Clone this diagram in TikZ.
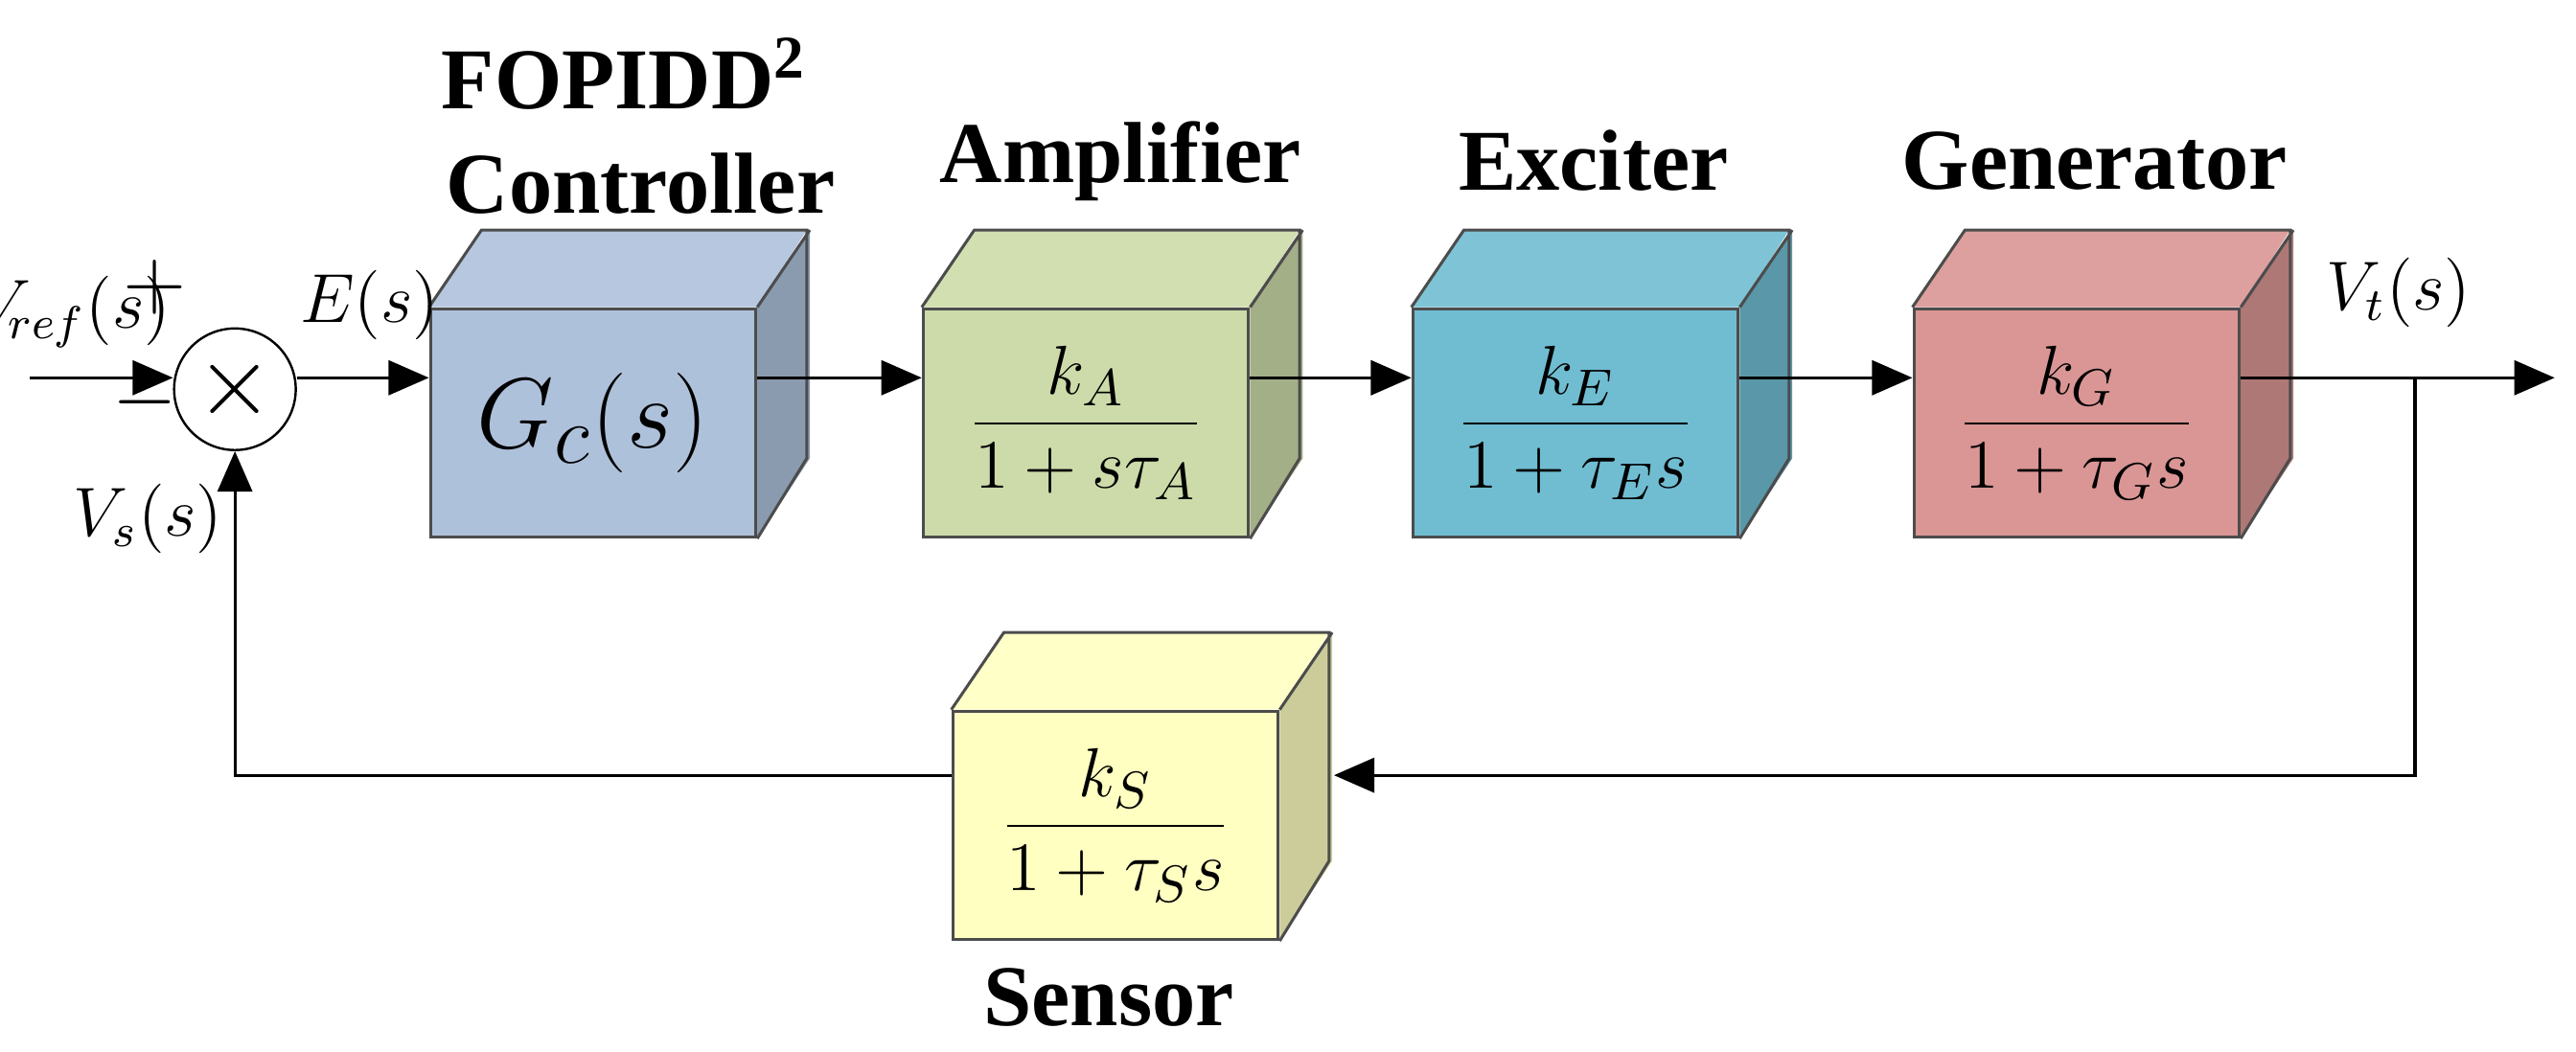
\documentclass[tikz,border=0pt]{standalone}
\usepackage{amsmath}
\usepackage{fontspec}
\setmainfont{Liberation Serif}
\usetikzlibrary{arrows.meta}
\definecolor{cctrl}{HTML}{AEC1DB}
\definecolor{camp}{HTML}{CCDBA9}
\definecolor{cexc}{HTML}{70BDD2}
\definecolor{cgen}{HTML}{D99694}
\definecolor{csen}{HTML}{FFFFC2}
\tikzset{
  front/.style={draw=black!70,line width=0.5pt,minimum width=1.98cm,minimum height=1.39cm,inner sep=0pt,font=\fontsize{13}{15}\selectfont},
  title/.style={font=\fontsize{15}{17}\selectfont\bfseries},
  lbl/.style={font=\fontsize{12}{14}\selectfont},
  wire/.style={line width=0.5pt},
  arr/.style={wire,-{Triangle[length=7pt,width=6pt]}}
}
\newcommand{\cubeside}[2]{%
  \fill[#2!80!black] (#1.north east)--++(32,-47)--++(0,139)--(#1.south east)--cycle;
  \fill[#2!90!white] (#1.north west)--++(32,-47)--++(198,0)--(#1.north east)--cycle;
  \draw[black!70,line width=0.5pt] (#1.north west)--++(32,-47)--++(198,0)--++(0,139)--(#1.south east)
    (#1.north east)--++(32,-47);}
\begin{document}
\begin{tikzpicture}[x=0.01cm,y=-0.01cm]
\useasboundingbox (0,0) rectangle (1568,640);
\node[front,fill=cctrl] (ctrl) at (361,257.5) {\fontsize{19}{21}\selectfont$G_c(s)$};
\node[front,fill=camp] (amp) at (661,257.5) {$\dfrac{k_A}{1+s\tau_A}$};
\node[front,fill=cexc] (exc) at (959,257.5) {$\dfrac{k_E}{1+\tau_E s}$};
\node[front,fill=cgen] (gen) at (1264,257.5) {$\dfrac{k_G}{1+\tau_G s}$};
\node[front,fill=csen] (sen) at (679,502.5) {$\dfrac{k_S}{1+\tau_S s}$};
\cubeside{ctrl}{cctrl}\cubeside{amp}{camp}\cubeside{exc}{cexc}\cubeside{gen}{cgen}\cubeside{sen}{csen}
\node[circle,draw,minimum size=0.74cm,inner sep=0pt,font=\fontsize{18}{18}\selectfont] (sum) at (143,237) {$\times$};
\coordinate (in) at (18,230);
\coordinate (out) at (1555,230);
\coordinate (br) at (1470,230);
\coordinate (brd) at (1470,472);
\coordinate (fb) at (143,472);
\draw[arr] (in)--(sum.west|-in);
\draw[arr] (sum.east|-in)--(ctrl.west|-in);
\draw[arr] (ctrl.east|-in)--(amp.west|-in);
\draw[arr] (amp.east|-in)--(exc.west|-in);
\draw[arr] (exc.east|-in)--(gen.west|-in);
\draw[arr] (gen.east|-in)--(out);
\draw[arr] (br)--(brd)--(812,472);
\draw[arr] (sen.west|-fb)--(fb)--(sum.south);
\node[title] (t1) at (380,45) {FOPIDD$^{\mathbf 2}$};
\node[title] (t2) at (390,112) {Controller};
\node[title] (t3) at (682,98) {Amplifier};
\node[title] (t4) at (970,98) {Exciter};
\node[title] (t5) at (1275,98) {Generator};
\node[title] (t6) at (675,607) {Sensor};
\node[lbl] (le) at (225,186) {$E(s)$};
\node[lbl] (lr) at (45,190) {$V_{\!ref}(s)$};
\node[lbl] (lp) at (94,175) {\fontsize{15}{15}\selectfont$+$};
\node[lbl] (lm) at (88,245) {\fontsize{15}{15}\selectfont$-$};
\node[lbl] (ls) at (90,316) {$V_s(s)$};
\node[lbl] (lt) at (1460,178) {$V_t(s)$};
\end{tikzpicture}
\end{document}
